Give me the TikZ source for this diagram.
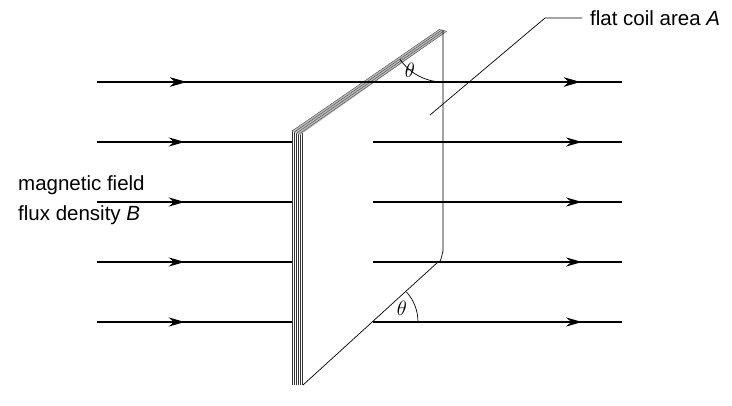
\documentclass[tikz,border=0pt]{standalone}
\usepackage{fontspec}
\setmainfont{Liberation Sans}
\usetikzlibrary{decorations.markings,arrows.meta}
\begin{document}
\begin{tikzpicture}[x=1pt,y=-1pt,
 field/.style={line width=2.2pt},
 arr/.style={decoration={markings,mark=at position #1 with {\arrow{Stealth[length=16pt,width=9pt]}}},postaction=decorate},
 thin/.style={line width=0.7pt},
 lbl/.style={font=\fontsize{20.5}{23}\selectfont,anchor=west,inner sep=0},
 th/.style={font=\fontsize{22}{24}\selectfont}]
\useasboundingbox (0,0) rectangle (732,405);
% coil
\fill[white] (292,130) -- (440,30) -- (446,30) -- (443,255) -- (302,385) -- (292,385) -- cycle;
\foreach \d in {0,2,4,6,8,10}{
  \draw[thin,black!80] (292+\d,131) -- (292+\d,385);
}
\fill[gray!55] (292,131) -- (440,29) -- (447,31) -- (300,135) -- cycle;
\foreach \d in {0,1.5,3,4.5}{
  \draw[line width=0.4pt,black!70] (292+\d*1.7,131+\d*0.6) -- (440+\d*1.5,29+\d*0.5);
}
\draw[thin] (443,30) -- (443,252) to[out=90,in=-45] (438,262) -- (303,385);
% field lines
\draw[field,arr=0.17,arr=0.92] (97,82) -- (622,82);
\foreach \y in {142,202,262,322}{
  \draw[field,arr=0.45] (97,\y) -- (292,\y);
  \draw[field,arr=0.84] (373,\y) -- (622,\y);
}
% angles
\draw[thin] (443,30) ++(90:52) arc (90:146:52);
\node[th] at (410,70) {$\theta$};
\draw[thin] (373,322) ++(0:45) arc (0:-42:45);
\node[th] at (402,308) {$\theta$};
% labels
\draw[thin] (430,115) -- (545,18) -- (582,18);
\node[lbl] at (590,18) {flat coil area \textit{A}};
\node[lbl] at (18,185) {magnetic field};
\node[lbl] at (18,215) {flux density \textit{B}};
\end{tikzpicture}
\end{document}
